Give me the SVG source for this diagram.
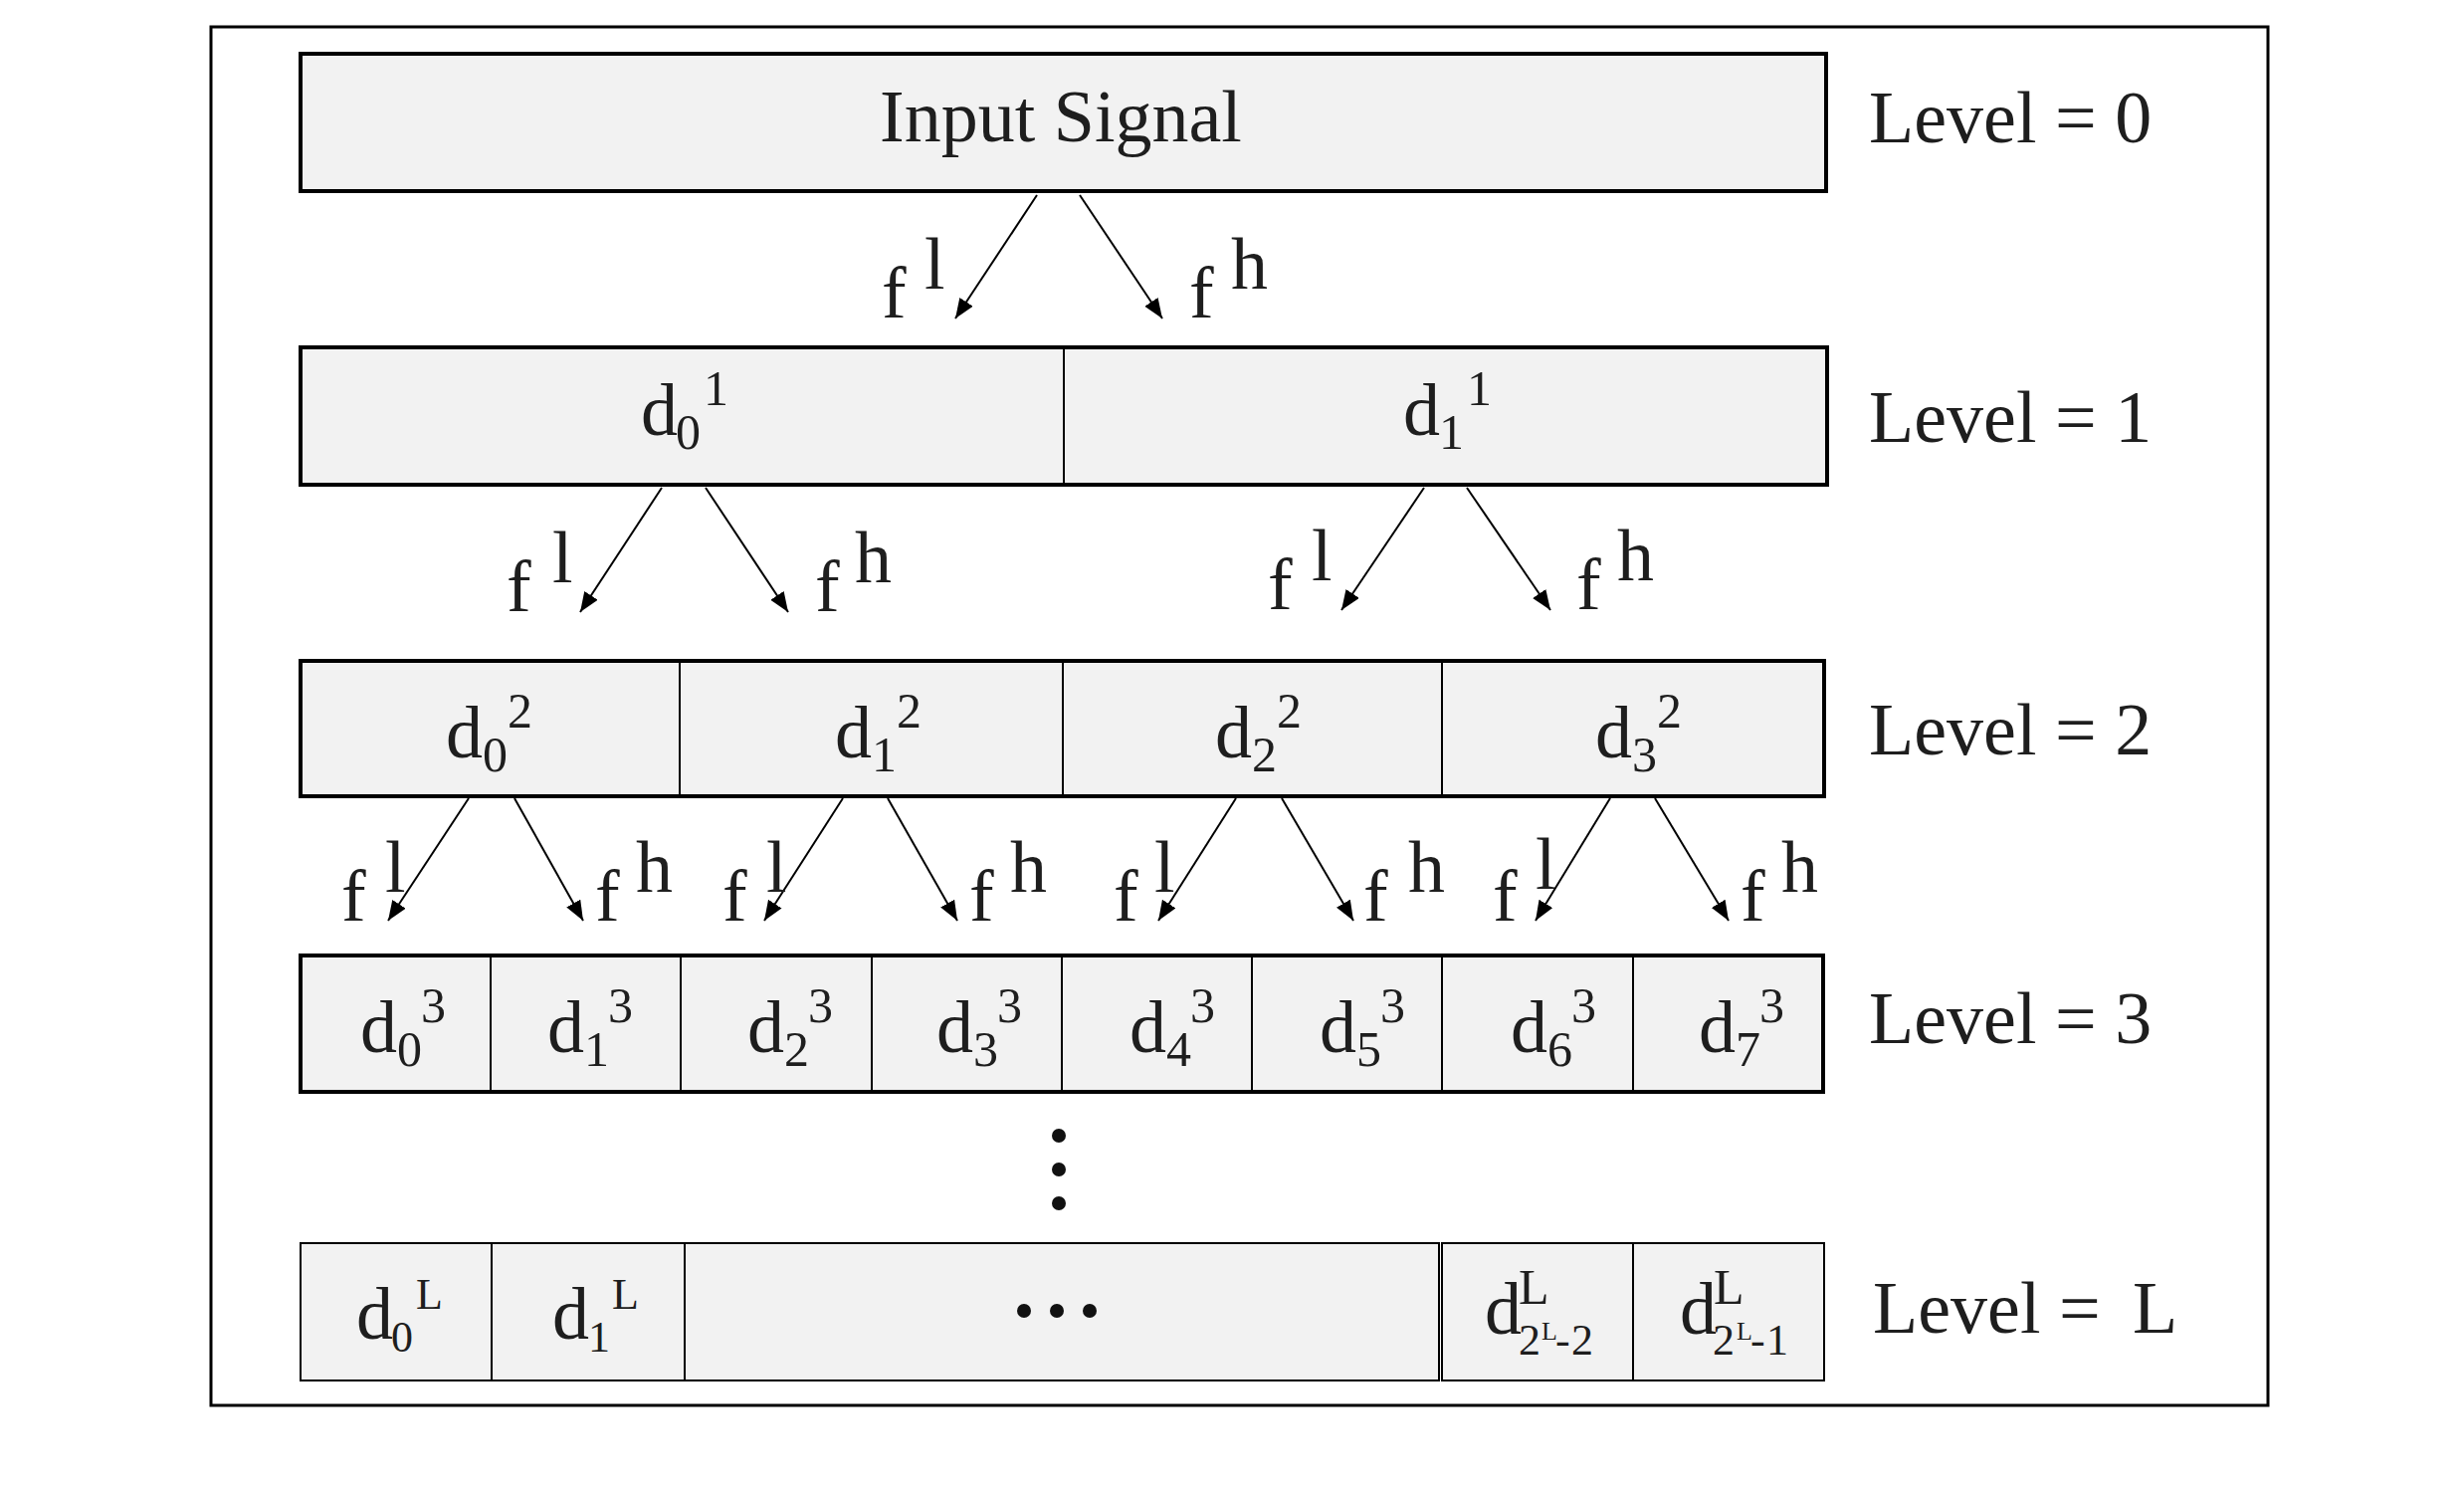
<svg xmlns="http://www.w3.org/2000/svg" width="2476" height="1492" viewBox="0 0 2476 1492">
<style>
.t{font-family:"Liberation Serif","Times New Roman",serif;fill:#1e1e1e}
.m{font-size:74px}
.s{font-size:50px}
.sl{font-size:44px}
.xs{font-size:26px}
.cell{fill:#f2f2f2;stroke:#000;stroke-width:2}
.frame{fill:none;stroke:#000;stroke-width:4}
.arr{stroke:#000;stroke-width:2;fill:none;marker-end:url(#ah)}
</style>
<defs>
<marker id="ah" markerUnits="userSpaceOnUse" markerWidth="22" markerHeight="18" refX="20" refY="8" orient="auto">
<path d="M0,0 L20,8 L0,16 z" fill="#000"/>
</marker>
</defs>
<rect width="2476" height="1492" fill="#fff"/>
<rect x="212" y="27" width="2067" height="1385" fill="none" stroke="#000" stroke-width="3"/>

<!-- Level 0 -->
<g id="input-signal">
<rect class="cell" x="302" y="54" width="1533" height="138"/>
<rect class="frame" x="302" y="54" width="1533" height="138"/>
<text class="t m" x="1066" y="142" text-anchor="middle">Input Signal</text>
</g>

<!-- Level 1 -->
<g id="d0-1"><rect class="cell" x="302" y="349" width="767" height="138"/>
<text class="t m" x="644" y="437">d</text><text class="t s" x="679" y="451">0</text><text class="t s" x="707" y="407">1</text></g>
<g id="d1-1"><rect class="cell" x="1069" y="349" width="767" height="138"/>
<text class="t m" x="1410" y="437">d</text><text class="t s" x="1446" y="451">1</text><text class="t s" x="1474" y="407">1</text></g>
<rect class="frame" x="302" y="349" width="1534" height="138"/>

<!-- Level 2 -->
<g id="d0-2"><rect class="cell" x="302" y="664" width="381" height="136"/>
<text class="t m" x="448" y="761">d</text><text class="t s" x="485" y="775">0</text><text class="t s" x="510" y="731">2</text></g>
<g id="d1-2"><rect class="cell" x="683" y="664" width="385" height="136"/>
<text class="t m" x="839" y="761">d</text><text class="t s" x="876" y="775">1</text><text class="t s" x="901" y="731">2</text></g>
<g id="d2-2"><rect class="cell" x="1068" y="664" width="381" height="136"/>
<text class="t m" x="1221" y="761">d</text><text class="t s" x="1258" y="775">2</text><text class="t s" x="1283" y="731">2</text></g>
<g id="d3-2"><rect class="cell" x="1449" y="664" width="384" height="136"/>
<text class="t m" x="1603" y="761">d</text><text class="t s" x="1640" y="775">3</text><text class="t s" x="1665" y="731">2</text></g>
<rect class="frame" x="302" y="664" width="1531" height="136"/>

<!-- Level 3 -->
<g id="d0-3"><rect class="cell" x="302" y="960" width="191" height="137"/>
<text class="t m" x="362" y="1057">d</text><text class="t s" x="399" y="1071">0</text><text class="t s" x="423" y="1027">3</text></g>
<g id="d1-3"><rect class="cell" x="493" y="960" width="191" height="137"/>
<text class="t m" x="550" y="1057">d</text><text class="t s" x="587" y="1071">1</text><text class="t s" x="611" y="1027">3</text></g>
<g id="d2-3"><rect class="cell" x="684" y="960" width="192" height="137"/>
<text class="t m" x="751" y="1057">d</text><text class="t s" x="788" y="1071">2</text><text class="t s" x="812" y="1027">3</text></g>
<g id="d3-3"><rect class="cell" x="876" y="960" width="191" height="137"/>
<text class="t m" x="941" y="1057">d</text><text class="t s" x="978" y="1071">3</text><text class="t s" x="1002" y="1027">3</text></g>
<g id="d4-3"><rect class="cell" x="1067" y="960" width="191" height="137"/>
<text class="t m" x="1135" y="1057">d</text><text class="t s" x="1172" y="1071">4</text><text class="t s" x="1196" y="1027">3</text></g>
<g id="d5-3"><rect class="cell" x="1258" y="960" width="191" height="137"/>
<text class="t m" x="1326" y="1057">d</text><text class="t s" x="1363" y="1071">5</text><text class="t s" x="1387" y="1027">3</text></g>
<g id="d6-3"><rect class="cell" x="1449" y="960" width="192" height="137"/>
<text class="t m" x="1518" y="1057">d</text><text class="t s" x="1555" y="1071">6</text><text class="t s" x="1579" y="1027">3</text></g>
<g id="d7-3"><rect class="cell" x="1641" y="960" width="191" height="137"/>
<text class="t m" x="1707" y="1057">d</text><text class="t s" x="1744" y="1071">7</text><text class="t s" x="1768" y="1027">3</text></g>
<rect class="frame" x="302" y="960" width="1530" height="137"/>

<!-- vertical ellipsis -->
<g id="vdots" fill="#111">
<circle cx="1064" cy="1141" r="7"/><circle cx="1064" cy="1175" r="7"/><circle cx="1064" cy="1209" r="7"/>
</g>

<!-- Level L -->
<g id="d0-L"><rect class="cell" x="302" y="1249" width="192" height="138" stroke-width="3"/>
<text class="t m" x="358" y="1345">d</text><text class="t sl" x="393" y="1358">0</text><text class="t sl" x="418" y="1315">L</text></g>
<g id="d1-L"><rect class="cell" x="494" y="1249" width="194" height="138" stroke-width="3"/>
<text class="t m" x="555" y="1345">d</text><text class="t sl" x="591" y="1358">1</text><text class="t sl" x="615" y="1315">L</text></g>
<g id="dots-L"><rect class="cell" x="688" y="1249" width="758" height="138" stroke-width="3"/>
<g fill="#111"><circle cx="1029" cy="1317" r="7"/><circle cx="1062" cy="1317" r="7"/><circle cx="1095" cy="1317" r="7"/></g></g>
<g id="dn2-L"><rect class="cell" x="1449" y="1249" width="192" height="138" stroke-width="3"/>
<text class="t m" x="1492" y="1340">d</text><text class="t s" x="1526" y="1310">L</text><text class="t sl" x="1526" y="1361">2</text><text class="t xs" x="1549" y="1346">L</text><text class="t sl" x="1563" y="1361">-</text><text class="t sl" x="1579" y="1361">2</text></g>
<g id="dn1-L"><rect class="cell" x="1641" y="1249" width="192" height="138" stroke-width="3"/>
<text class="t m" x="1688" y="1340">d</text><text class="t s" x="1722" y="1310">L</text><text class="t sl" x="1721" y="1361">2</text><text class="t xs" x="1745" y="1346">L</text><text class="t sl" x="1759" y="1361">-</text><text class="t sl" x="1775" y="1361">1</text></g>

<!-- Level labels -->
<g id="level-labels">
<text class="t m" x="1878" y="143">Level = 0</text>
<text class="t m" x="1878" y="444">Level = 1</text>
<text class="t m" x="1878" y="758">Level = 2</text>
<text class="t m" x="1878" y="1048">Level = 3</text>
<text class="t m" x="1882" y="1339">Level = <tspan x="2143">L</tspan></text>
</g>

<!-- Connectors -->
<g id="connectors">
<line class="arr" x1="1042" y1="196" x2="960" y2="320"/>
<line class="arr" x1="1085" y1="196" x2="1168" y2="320"/>
<line class="arr" x1="665" y1="490" x2="583" y2="615"/>
<line class="arr" x1="709" y1="490" x2="792" y2="615"/>
<line class="arr" x1="1431" y1="490" x2="1348" y2="613"/>
<line class="arr" x1="1474" y1="490" x2="1558" y2="613"/>
<line class="arr" x1="471" y1="802" x2="390" y2="925"/>
<line class="arr" x1="517" y1="802" x2="586" y2="925"/>
<line class="arr" x1="847" y1="802" x2="768" y2="925"/>
<line class="arr" x1="892" y1="802" x2="962" y2="925"/>
<line class="arr" x1="1242" y1="802" x2="1164" y2="925"/>
<line class="arr" x1="1288" y1="802" x2="1360" y2="925"/>
<line class="arr" x1="1618" y1="802" x2="1543" y2="925"/>
<line class="arr" x1="1663" y1="802" x2="1737" y2="925"/>
</g>

<!-- Connector labels -->
<g id="filter-labels">
<text class="t m" x="886" y="319">f</text><text class="t m" x="929" y="290">l</text>
<text class="t m" x="1195" y="319">f</text><text class="t m" x="1237" y="290">h</text>
<text class="t m" x="509" y="614">f</text><text class="t m" x="555" y="585">l</text>
<text class="t m" x="819" y="614">f</text><text class="t m" x="859" y="585">h</text>
<text class="t m" x="1274" y="612">f</text><text class="t m" x="1318" y="583">l</text>
<text class="t m" x="1584" y="612">f</text><text class="t m" x="1625" y="583">h</text>
<text class="t m" x="343" y="925">f</text><text class="t m" x="387" y="896">l</text>
<text class="t m" x="598" y="925">f</text><text class="t m" x="639" y="896">h</text>
<text class="t m" x="726" y="925">f</text><text class="t m" x="770" y="896">l</text>
<text class="t m" x="974" y="925">f</text><text class="t m" x="1015" y="896">h</text>
<text class="t m" x="1119" y="925">f</text><text class="t m" x="1160" y="896">l</text>
<text class="t m" x="1370" y="925">f</text><text class="t m" x="1415" y="896">h</text>
<text class="t m" x="1500" y="925">f</text><text class="t m" x="1543" y="893">l</text>
<text class="t m" x="1749" y="925">f</text><text class="t m" x="1790" y="896">h</text>
</g>
</svg>
